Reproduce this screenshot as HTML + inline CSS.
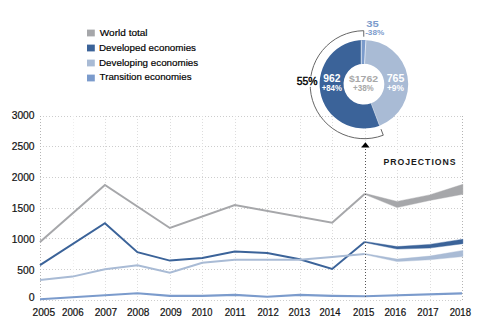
<!DOCTYPE html>
<html><head><meta charset="utf-8"><style>
html,body{margin:0;padding:0;background:#fff;width:483px;height:334px;overflow:hidden}
svg{display:block}
</style></head><body>
<svg width="483" height="334" viewBox="0 0 483 334">
<line x1="40" y1="300.5" x2="463" y2="300.5" stroke="#cdcdcd" stroke-width="1" stroke-dasharray="1 2"/>
<line x1="40" y1="269.5" x2="463" y2="269.5" stroke="#cdcdcd" stroke-width="1" stroke-dasharray="1 2"/>
<line x1="40" y1="238.5" x2="463" y2="238.5" stroke="#cdcdcd" stroke-width="1" stroke-dasharray="1 2"/>
<line x1="40" y1="208.5" x2="463" y2="208.5" stroke="#cdcdcd" stroke-width="1" stroke-dasharray="1 2"/>
<line x1="40" y1="177.5" x2="463" y2="177.5" stroke="#cdcdcd" stroke-width="1" stroke-dasharray="1 2"/>
<line x1="40" y1="146.5" x2="463" y2="146.5" stroke="#cdcdcd" stroke-width="1" stroke-dasharray="1 2"/>
<line x1="40" y1="116.5" x2="463" y2="116.5" stroke="#cdcdcd" stroke-width="1" stroke-dasharray="1 2"/>
<line x1="40.5" y1="116" x2="40.5" y2="301" stroke="#b4b4b4" stroke-width="1" stroke-dasharray="1 2"/>
<line x1="73.5" y1="116" x2="73.5" y2="301" stroke="#eeeeee" stroke-width="1" stroke-dasharray="1 2"/>
<line x1="105.5" y1="116" x2="105.5" y2="301" stroke="#dddddd" stroke-width="1" stroke-dasharray="1 2"/>
<line x1="137.5" y1="116" x2="137.5" y2="301" stroke="#dddddd" stroke-width="1" stroke-dasharray="1 2"/>
<line x1="170.5" y1="116" x2="170.5" y2="301" stroke="#dddddd" stroke-width="1" stroke-dasharray="1 2"/>
<line x1="202.5" y1="116" x2="202.5" y2="301" stroke="#dddddd" stroke-width="1" stroke-dasharray="1 2"/>
<line x1="235.5" y1="116" x2="235.5" y2="301" stroke="#dddddd" stroke-width="1" stroke-dasharray="1 2"/>
<line x1="267.5" y1="116" x2="267.5" y2="301" stroke="#dddddd" stroke-width="1" stroke-dasharray="1 2"/>
<line x1="300.5" y1="116" x2="300.5" y2="301" stroke="#dddddd" stroke-width="1" stroke-dasharray="1 2"/>
<line x1="332.5" y1="116" x2="332.5" y2="301" stroke="#dddddd" stroke-width="1" stroke-dasharray="1 2"/>
<line x1="365.5" y1="116" x2="365.5" y2="301" stroke="#dddddd" stroke-width="1" stroke-dasharray="1 2"/>
<line x1="397.5" y1="116" x2="397.5" y2="301" stroke="#dddddd" stroke-width="1" stroke-dasharray="1 2"/>
<line x1="430.5" y1="116" x2="430.5" y2="301" stroke="#dddddd" stroke-width="1" stroke-dasharray="1 2"/>
<line x1="462.5" y1="116" x2="462.5" y2="301" stroke="#b4b4b4" stroke-width="1" stroke-dasharray="1 2"/>
<polyline points="40.00,241.90 104.92,184.90 169.85,228.00 234.77,205.10 332.15,222.70 364.62,194.00" fill="none" stroke="#a6a7aa" stroke-width="2.0" stroke-linejoin="miter"/>
<polygon points="364.62,193.30 397.08,201.40 429.54,194.90 462.90,184.30 462.90,194.30 429.54,200.50 397.08,207.60 364.62,194.30" fill="#a6a7aa" stroke="#a6a7aa" stroke-width="0.4" stroke-linejoin="round"/>
<polyline points="40.00,265.20 104.92,223.20 137.38,252.20 169.85,260.60 202.31,258.10 234.77,251.40 267.23,253.10 299.69,259.30 332.15,269.00 364.62,242.10" fill="none" stroke="#3b6399" stroke-width="2.0"/>
<polygon points="364.62,241.40 397.08,246.60 429.54,244.40 462.90,239.20 462.90,243.70 429.54,248.10 397.08,249.10 364.62,242.40" fill="#3b6399" stroke="#3b6399" stroke-width="0.4" stroke-linejoin="round"/>
<polyline points="40.00,280.10 72.46,276.60 104.92,269.20 137.38,265.20 169.85,272.80 202.31,262.80 234.77,259.80 267.23,259.80 299.69,259.80 332.15,257.00 364.62,254.10" fill="none" stroke="#a9bbd5" stroke-width="2.0"/>
<polygon points="364.62,253.50 397.08,259.10 429.54,256.10 462.90,250.40 462.90,256.60 429.54,259.80 397.08,261.60 364.62,254.50" fill="#a9bbd5" stroke="#a9bbd5" stroke-width="0.4" stroke-linejoin="round"/>
<polyline points="40.00,299.20 72.46,297.20 104.92,295.20 137.38,293.20 169.85,295.90 202.31,295.90 234.77,294.90 267.23,296.70 299.69,294.90 332.15,295.90 364.62,296.20 462.00,293.40" fill="none" stroke="#7b9bcc" stroke-width="2.1"/>
<line x1="365.5" y1="149" x2="365.5" y2="298" stroke="#555" stroke-width="1" stroke-dasharray="1 2"/>
<text x="28.68" y="300.80" font-family="Liberation Sans, sans-serif" font-size="10.2" font-weight="normal" fill="#111" textLength="5.90" lengthAdjust="spacingAndGlyphs" stroke="#111" stroke-width="0.2">0</text>
<text x="17.39" y="273.60" font-family="Liberation Sans, sans-serif" font-size="10.2" font-weight="normal" fill="#111" textLength="17.18" lengthAdjust="spacingAndGlyphs" stroke="#111" stroke-width="0.2">500</text>
<text x="11.89" y="242.80" font-family="Liberation Sans, sans-serif" font-size="10.2" font-weight="normal" fill="#111" textLength="22.68" lengthAdjust="spacingAndGlyphs" stroke="#111" stroke-width="0.2">1000</text>
<text x="11.89" y="211.80" font-family="Liberation Sans, sans-serif" font-size="10.2" font-weight="normal" fill="#111" textLength="22.68" lengthAdjust="spacingAndGlyphs" stroke="#111" stroke-width="0.2">1500</text>
<text x="11.79" y="180.80" font-family="Liberation Sans, sans-serif" font-size="10.2" font-weight="normal" fill="#111" textLength="22.78" lengthAdjust="spacingAndGlyphs" stroke="#111" stroke-width="0.2">2000</text>
<text x="11.79" y="149.60" font-family="Liberation Sans, sans-serif" font-size="10.2" font-weight="normal" fill="#111" textLength="22.78" lengthAdjust="spacingAndGlyphs" stroke="#111" stroke-width="0.2">2500</text>
<text x="11.69" y="118.90" font-family="Liberation Sans, sans-serif" font-size="10.2" font-weight="normal" fill="#111" textLength="22.88" lengthAdjust="spacingAndGlyphs" stroke="#111" stroke-width="0.2">3000</text>
<text x="32.49" y="316.00" font-family="Liberation Sans, sans-serif" font-size="10.0" font-weight="normal" fill="#111" textLength="22.57" lengthAdjust="spacingAndGlyphs" stroke="#111" stroke-width="0.2">2005</text>
<text x="62.01" y="316.00" font-family="Liberation Sans, sans-serif" font-size="10.0" font-weight="normal" fill="#111" textLength="21.64" lengthAdjust="spacingAndGlyphs" stroke="#111" stroke-width="0.2">2006</text>
<text x="94.69" y="316.00" font-family="Liberation Sans, sans-serif" font-size="10.0" font-weight="normal" fill="#111" textLength="22.58" lengthAdjust="spacingAndGlyphs" stroke="#111" stroke-width="0.2">2007</text>
<text x="127.00" y="316.00" font-family="Liberation Sans, sans-serif" font-size="10.0" font-weight="normal" fill="#111" textLength="22.37" lengthAdjust="spacingAndGlyphs" stroke="#111" stroke-width="0.2">2008</text>
<text x="159.91" y="316.00" font-family="Liberation Sans, sans-serif" font-size="10.0" font-weight="normal" fill="#111" textLength="21.95" lengthAdjust="spacingAndGlyphs" stroke="#111" stroke-width="0.2">2009</text>
<text x="191.63" y="316.00" font-family="Liberation Sans, sans-serif" font-size="10.0" font-weight="normal" fill="#111" textLength="20.70" lengthAdjust="spacingAndGlyphs" stroke="#111" stroke-width="0.2">2010</text>
<text x="224.72" y="316.00" font-family="Liberation Sans, sans-serif" font-size="10.0" font-weight="normal" fill="#111" textLength="20.83" lengthAdjust="spacingAndGlyphs" stroke="#111" stroke-width="0.2">2011</text>
<text x="257.52" y="316.00" font-family="Liberation Sans, sans-serif" font-size="10.0" font-weight="normal" fill="#111" textLength="21.22" lengthAdjust="spacingAndGlyphs" stroke="#111" stroke-width="0.2">2012</text>
<text x="288.51" y="316.00" font-family="Liberation Sans, sans-serif" font-size="10.0" font-weight="normal" fill="#111" textLength="21.64" lengthAdjust="spacingAndGlyphs" stroke="#111" stroke-width="0.2">2013</text>
<text x="319.53" y="316.00" font-family="Liberation Sans, sans-serif" font-size="10.0" font-weight="normal" fill="#111" textLength="20.92" lengthAdjust="spacingAndGlyphs" stroke="#111" stroke-width="0.2">2014</text>
<text x="353.12" y="316.00" font-family="Liberation Sans, sans-serif" font-size="10.0" font-weight="normal" fill="#111" textLength="21.33" lengthAdjust="spacingAndGlyphs" stroke="#111" stroke-width="0.2">2015</text>
<text x="384.41" y="316.00" font-family="Liberation Sans, sans-serif" font-size="10.0" font-weight="normal" fill="#111" textLength="21.74" lengthAdjust="spacingAndGlyphs" stroke="#111" stroke-width="0.2">2016</text>
<text x="417.32" y="316.00" font-family="Liberation Sans, sans-serif" font-size="10.0" font-weight="normal" fill="#111" textLength="21.32" lengthAdjust="spacingAndGlyphs" stroke="#111" stroke-width="0.2">2017</text>
<text x="449.72" y="316.00" font-family="Liberation Sans, sans-serif" font-size="10.0" font-weight="normal" fill="#111" textLength="21.22" lengthAdjust="spacingAndGlyphs" stroke="#111" stroke-width="0.2">2018</text>
<rect x="381" y="154" width="78" height="14" fill="#fff"/>
<text x="383.4" y="164.9" font-family="Liberation Sans, sans-serif" font-size="8.7" font-weight="bold" fill="#1a1a1a" letter-spacing="1.0">PROJECTIONS</text>
<polygon points="361.2,147.4 369.6,147.4 365.4,142.3" fill="#000"/>
<defs><clipPath id="ring"><path clip-rule="evenodd" d="M319.60,84.20 a44.3,44.3 0 1,0 88.60,0 a44.3,44.3 0 1,0 -88.60,0 Z M343.50,84.20 a20.4,20.4 0 1,0 40.80,0 a20.4,20.4 0 1,0 -40.80,0 Z"/></clipPath></defs>
<path d="M363.90,39.90 A44.3,44.3 0 0 1 379.56,125.64 L371.11,103.28 A20.4,20.4 0 0 0 363.90,63.80 Z" fill="#a9bbd5"/>
<path d="M379.56,125.64 A44.3,44.3 0 1 1 363.90,39.90 L363.90,63.80 A20.4,20.4 0 1 0 371.11,103.28 Z" fill="#3b6399"/>
<line x1="371.11" y1="103.28" x2="379.56" y2="125.64" stroke="#dde4ee" stroke-width="0.6"/>
<g clip-path="url(#ring)"><polygon points="361.3,36 366.1,36 364.3,68 361.3,68" fill="#7b9bcc" stroke="#e6ecf5" stroke-width="0.9"/></g>
<path d="M380.99,129.13 L383.29,135.21 A54,54 0 1 1 363.73,30.70 L363.78,36.70" fill="none" stroke="#666" stroke-width="1"/>
<rect x="296" y="76.3" width="21.5" height="10.6" fill="#fff"/>
<text x="296.68" y="85.00" font-family="Liberation Sans, sans-serif" font-size="10.2" font-weight="normal" fill="#000" textLength="20.82" lengthAdjust="spacingAndGlyphs" stroke="#000" stroke-width="0.4">55%</text>
<text x="323.19" y="81.90" font-family="Liberation Sans, sans-serif" font-size="10" font-weight="bold" fill="#fff" textLength="17.18" lengthAdjust="spacingAndGlyphs" >962</text>
<text x="321.69" y="90.90" font-family="Liberation Sans, sans-serif" font-size="8.5" font-weight="bold" fill="#fff" textLength="20.26" lengthAdjust="spacingAndGlyphs" >+84%</text>
<text x="348.90" y="81.90" font-family="Liberation Sans, sans-serif" font-size="9.6" font-weight="bold" fill="#a8a8a8" textLength="29.18" lengthAdjust="spacingAndGlyphs" >$1762</text>
<text x="352.98" y="90.70" font-family="Liberation Sans, sans-serif" font-size="8.5" font-weight="bold" fill="#a8a8a8" textLength="20.78" lengthAdjust="spacingAndGlyphs" >+38%</text>
<text x="386.68" y="81.80" font-family="Liberation Sans, sans-serif" font-size="10" font-weight="bold" fill="#fff" textLength="17.70" lengthAdjust="spacingAndGlyphs" >765</text>
<text x="386.96" y="90.80" font-family="Liberation Sans, sans-serif" font-size="8.5" font-weight="bold" fill="#fff" textLength="17.00" lengthAdjust="spacingAndGlyphs" >+9%</text>
<text x="366.37" y="26.60" font-family="Liberation Sans, sans-serif" font-size="9.8" font-weight="bold" fill="#7b9bcc" textLength="12.52" lengthAdjust="spacingAndGlyphs" >35</text>
<text x="365.16" y="35.30" font-family="Liberation Sans, sans-serif" font-size="8.0" font-weight="bold" fill="#7b9bcc" textLength="19.00" lengthAdjust="spacingAndGlyphs" >-38%</text>
<rect x="87" y="29.6" width="7.8" height="6.8" fill="#a6a7aa"/>
<text x="99.80" y="35.80" font-family="Liberation Sans, sans-serif" font-size="9.8" font-weight="normal" fill="#000" textLength="47.82" lengthAdjust="spacingAndGlyphs" stroke="#000" stroke-width="0.18">World total</text>
<rect x="87" y="44.6" width="7.8" height="6.8" fill="#3b6399"/>
<text x="99.02" y="51.20" font-family="Liberation Sans, sans-serif" font-size="9.8" font-weight="normal" fill="#000" textLength="96.98" lengthAdjust="spacingAndGlyphs" stroke="#000" stroke-width="0.18">Developed economies</text>
<rect x="87" y="59.6" width="7.8" height="6.8" fill="#a9bbd5"/>
<text x="99.02" y="65.80" font-family="Liberation Sans, sans-serif" font-size="9.8" font-weight="normal" fill="#000" textLength="99.18" lengthAdjust="spacingAndGlyphs" stroke="#000" stroke-width="0.18">Developing economies</text>
<rect x="87" y="74.6" width="7.8" height="6.8" fill="#7b9bcc"/>
<text x="99.61" y="80.30" font-family="Liberation Sans, sans-serif" font-size="9.8" font-weight="normal" fill="#000" textLength="91.89" lengthAdjust="spacingAndGlyphs" stroke="#000" stroke-width="0.18">Transition economies</text>
</svg>
</body></html>
